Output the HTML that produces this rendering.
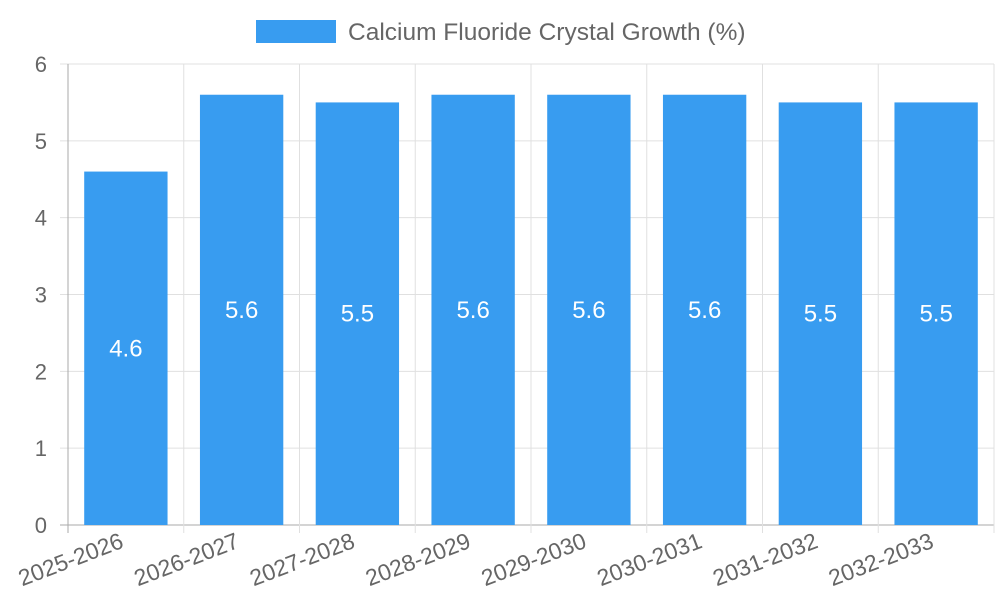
<!DOCTYPE html>
<html><head><meta charset="utf-8"><style>
body{margin:0;background:#fff;font-family:"Liberation Sans",sans-serif}
</style></head><body>
<svg id="c" width="1000" height="600" xmlns="http://www.w3.org/2000/svg">
<rect x="256" y="20" width="80" height="23" fill="#389cf0"/>
<text x="348" y="40" font-size="24.5" fill="#666" font-family="Liberation Sans, sans-serif">Calcium Fluoride Crystal Growth (%)</text>
<g id="g"></g>
</svg>
<script>
const categories=["2025-2026","2026-2027","2027-2028","2028-2029","2029-2030","2030-2031","2031-2032","2032-2033"];
const values=[4.6,5.6,5.5,5.6,5.6,5.6,5.5,5.5];
const yTicks=[0,1,2,3,4,5,6];
const L=68,R=994,T=64,B=525,yMax=6;
const g=document.getElementById('g');
const NS='http://www.w3.org/2000/svg';
const bw=(R-L)/categories.length;
const y=v=>B-v/yMax*(B-T);
const x=i=>L+i*bw;
function el(t,a,txt){const e=document.createElementNS(NS,t);for(const k in a)e.setAttribute(k,a[k]);if(txt!=null)e.textContent=txt;g.appendChild(e);return e;}
yTicks.forEach(v=>{
 const ln=el('line',{x1:L-8,x2:R,y1:y(v),y2:y(v),stroke:v===0?'#aaa':'#e0e0e0','stroke-width':1});
 
 
 const t=el('text',{x:47,y:y(v)+8,'text-anchor':'end','font-size':22,fill:'#666'},v);
 
 
});
for(let i=0;i<=categories.length;i++){
 const ln=el('line',{x1:x(i),x2:x(i),y1:T,y2:B+8,stroke:i===0?'#aaa':'#e0e0e0','stroke-width':1});
 
 
}
categories.forEach((c,i)=>{
 const cx=x(i)+bw/2,w=bw*0.72;
 const r=el('rect',{x:cx-w/2,y:y(values[i]),width:w,height:B-y(values[i]),fill:'#389cf0'});
 
 
 const v=el('text',{x:cx,y:(y(values[i])+B)/2+8,'text-anchor':'middle','font-size':24,fill:'#fff'},values[i].toFixed(1));
 
 
 const t=el('text',{x:cx-1,y:B+22,'text-anchor':'end','font-size':23,fill:'#666',transform:`rotate(-21 ${cx-1} ${B+22})`},c);
 
 
});
</script>
</body></html>
